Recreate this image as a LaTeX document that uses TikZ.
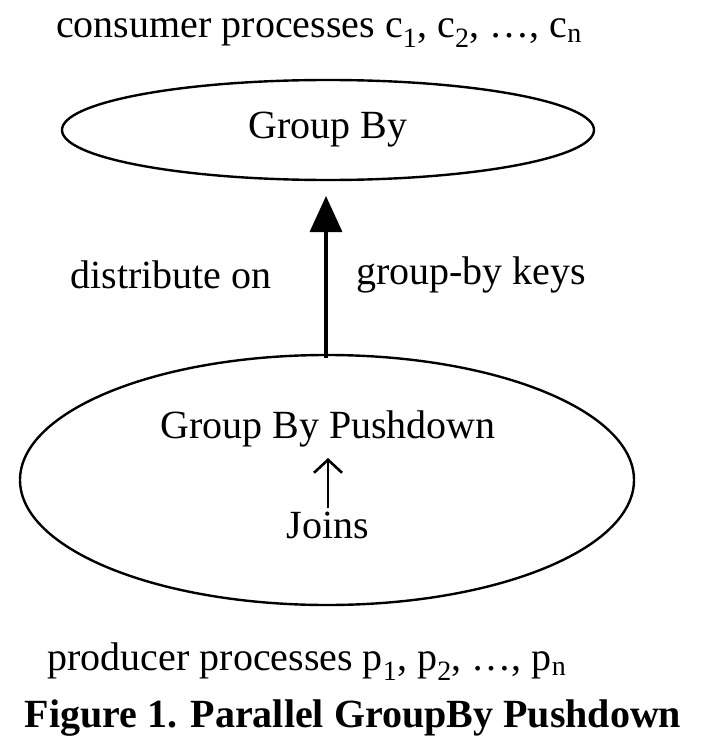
\documentclass[tikz,border=0pt]{standalone}
\usepackage{fontspec}
\setmainfont{Liberation Serif}
\usetikzlibrary{arrows.meta}
\begin{document}
\begin{tikzpicture}[x=1pt,y=-1pt,
  lbl/.style={font=\fontsize{40}{44}\selectfont, inner sep=0pt},
  oval/.style={draw, line width=2.4pt}]
\useasboundingbox (0,0) rectangle (702,754);
\node[lbl] (cons) at (319,33) {consumer processes c\textsubscript{1}, c\textsubscript{2}, \dots, c\textsubscript{n}};
\draw[oval] (328,130) ellipse [x radius=266, y radius=50];
\node[lbl] (gb) at (328,130) {Group By};
\draw[oval] (327,480) ellipse [x radius=307, y radius=125];
\coordinate (top) at (326,196);
\coordinate (bot) at (326,358);
\draw[line width=3.5pt, -{Triangle[length=36pt,width=32pt]}] (bot) -- (top);
\node[lbl] (dist) at (171,275) {distribute on};
\node[lbl] (keys) at (471,275) {group-by keys};
\node[lbl] (gbp) at (328,429) {Group By Pushdown};
\node[lbl] (joins) at (328,525) {Joins};
\draw[line width=2.6pt, -{Straight Barb[length=13pt,width=28pt]}] (328,508) -- (328,458);
\node[lbl] (prod) at (307,662) {producer processes p\textsubscript{1}, p\textsubscript{2}, \dots, p\textsubscript{n}};
\node[lbl, font=\fontsize{40}{44}\selectfont\bfseries] (cap) at (353,718) {Figure 1. Parallel GroupBy Pushdown};
\end{tikzpicture}
\end{document}
